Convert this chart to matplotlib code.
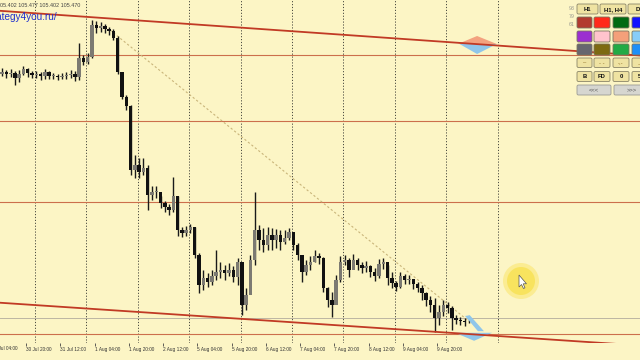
import matplotlib
matplotlib.use('Agg')
import matplotlib.pyplot as plt
from matplotlib.patches import Polygon, Circle, FancyBboxPatch

# USDJPY, 2-hour bars from 30 Jul to 9 Aug
close = [108.60, 108.58, 108.59, 108.53, 108.58, 108.64, 108.59, 108.56, 108.58, 108.55,
         108.60, 108.55, 108.55, 108.54, 108.55, 108.56, 108.58, 108.54, 108.78, 108.73,
         108.79, 109.19, 109.15, 109.18, 109.14, 109.11, 109.03, 108.60, 108.29, 108.18,
         107.38, 107.44, 107.35, 107.40, 107.06, 107.10, 107.10, 106.96, 106.91, 106.88,
         107.05, 106.63, 106.59, 106.63, 106.66, 106.31, 105.94, 106.03, 105.98, 106.05,
         106.10, 106.13, 106.09, 106.13, 106.04, 106.23, 105.69, 105.81, 106.25, 106.63,
         106.50, 106.44, 106.56, 106.50, 106.56, 106.48, 106.53, 106.60, 106.44, 106.31,
         106.10, 106.19, 106.23, 106.30, 106.28, 105.90, 105.75, 105.69, 106.00, 106.23,
         106.25, 106.13, 106.25, 106.19, 106.15, 106.18, 106.10, 106.05, 106.20, 106.23,
         106.03, 105.96, 105.91, 106.05, 106.00, 106.01, 105.95, 105.90, 105.84, 105.75,
         105.69, 105.53, 105.60, 105.69, 105.65, 105.53, 105.50, 105.49, 105.48, 105.47]
high = [108.65, 108.63, 108.64, 108.61, 108.63, 108.68, 108.65, 108.61, 108.61, 108.60,
        108.64, 108.61, 108.59, 108.58, 108.59, 108.60, 108.63, 108.61, 108.96, 108.81,
        108.84, 109.25, 109.24, 109.23, 109.20, 109.16, 109.14, 109.05, 108.60, 108.31,
        108.19, 107.56, 107.53, 107.53, 107.44, 107.18, 107.18, 107.05, 106.99, 106.95,
        107.29, 107.05, 106.66, 106.68, 106.70, 106.66, 106.34, 106.13, 106.09, 106.13,
        106.38, 106.23, 106.19, 106.21, 106.18, 106.28, 106.23, 105.90, 106.31, 107.10,
        106.69, 106.65, 106.66, 106.65, 106.64, 106.63, 106.63, 106.65, 106.58, 106.46,
        106.31, 106.25, 106.30, 106.38, 106.34, 106.29, 105.91, 105.85, 106.06, 106.30,
        106.31, 106.28, 106.33, 106.28, 106.23, 106.24, 106.19, 106.15, 106.26, 106.28,
        106.19, 106.10, 105.99, 106.10, 106.08, 106.06, 106.01, 105.98, 105.94, 105.85,
        105.80, 105.78, 105.69, 105.75, 105.73, 105.68, 105.56, 105.54, 105.53, 105.54]
low = [108.55, 108.53, 108.54, 108.44, 108.48, 108.56, 108.54, 108.53, 108.53, 108.50,
       108.51, 108.51, 108.51, 108.50, 108.51, 108.51, 108.53, 108.49, 108.50, 108.69,
       108.70, 108.78, 109.09, 109.10, 109.09, 109.06, 109.00, 108.58, 108.26, 108.13,
       107.31, 107.28, 107.28, 107.31, 106.88, 107.00, 107.03, 106.90, 106.85, 106.81,
       106.85, 106.55, 106.54, 106.55, 106.59, 106.28, 105.84, 105.88, 105.91, 105.94,
       106.00, 106.03, 106.00, 106.05, 105.98, 105.94, 105.56, 105.63, 105.85, 106.19,
       106.38, 106.35, 106.38, 106.38, 106.40, 106.38, 106.45, 106.50, 106.38, 106.25,
       105.98, 106.06, 106.13, 106.23, 106.20, 105.85, 105.66, 105.54, 105.73, 105.98,
       106.19, 106.04, 106.15, 106.13, 106.09, 106.10, 106.04, 105.99, 106.03, 106.14,
       105.94, 105.90, 105.86, 105.90, 105.95, 105.95, 105.89, 105.85, 105.75, 105.68,
       105.60, 105.35, 105.44, 105.55, 105.59, 105.38, 105.45, 105.44, 105.43, 105.46]
open_ = [108.58] + close[:-1]

time_labels = ['30 Jul 04:00', '30 Jul 20:00', '31 Jul 12:00', '1 Aug 04:00', '1 Aug 20:00',
               '2 Aug 12:00', '5 Aug 04:00', '5 Aug 20:00', '6 Aug 12:00', '7 Aug 04:00',
               '7 Aug 20:00', '8 Aug 12:00', '9 Aug 04:00', '9 Aug 20:00']
label_pos = [-2.4 + 8 * j for j in range(len(time_labels))]
grid_pos = [7.7 + 12 * j for j in range(10)]

levels = [108.81, 107.99, 106.98, 105.33]
bid_line = 105.525
trend_top = ([-0.5, 149.0], [109.365, 108.806])
trend_bottom = ([-0.5, 149.0], [105.716, 105.181])
trend_dotted = ([25.2, 109.2], [109.125, 105.475])
diamond_top_up = [(106.4, 108.95), (110.9, 109.05), (115.5, 108.95)]
diamond_top_dn = [(106.8, 108.95), (115.5, 108.95), (110.9, 108.825)]
diamond_bot_dn = [(105.8, 105.34), (114.4, 105.34), (110.2, 105.24)]
diamond_bot_wing = [(108.1, 105.55), (109.2, 105.56), (112.5, 105.36), (111.1, 105.36)]

ohlc_text = '105.402 105.477 105.402 105.470'

BG = '#fcf5c5'
TICKFONT = ['Liberation Sans Narrow', 'Liberation Sans', 'DejaVu Sans']
fig = plt.figure(figsize=(6.4, 3.6), dpi=100, facecolor=BG)
ax = fig.add_axes([0, 17 / 360, 1, 343 / 360], facecolor=BG)
for s in ax.spines.values():
    s.set_visible(False)
ax.set_yticks([])

for g in grid_pos:
    ax.axvline(g, color='#4a4a40', lw=0.7, ls=(0, (1.2, 1.8)), zorder=1)
for lv in levels:
    ax.axhline(lv, color='#cc6f4c', lw=0.8, zorder=2)
ax.axhline(bid_line, color='#bdb6a2', lw=0.7, zorder=2)

ax.plot(*trend_dotted, color='#c9b57a', lw=0.8, ls=(0, (2, 2)), zorder=2)

# candles
idx = list(range(len(close)))
ax.vlines(idx, low, high, color='#1a1a1a', lw=1.0, zorder=3)
for i in idx:
    o, c = open_[i], close[i]
    col = '#111111' if c < o else '#7c7a72'
    ax.bar(i, max(abs(c - o), 0.01), bottom=min(o, c), width=0.8,
           color=col, edgecolor='none', zorder=4)

ax.plot(*trend_top, color='#c13a24', lw=1.3, zorder=5, solid_capstyle='butt')
ax.plot(*trend_bottom, color='#c13a24', lw=1.3, zorder=5, solid_capstyle='butt')

ax.add_patch(Polygon(diamond_top_up, closed=True, color='#f3a27f', lw=0, zorder=4))
ax.add_patch(Polygon(diamond_top_dn, closed=True, color='#8fc6ea', lw=0, zorder=4))
ax.add_patch(Polygon(diamond_bot_dn, closed=True, color='#8fc6ea', lw=0, zorder=4))
ax.add_patch(Polygon(diamond_bot_wing, closed=True, color='#8fc6ea', lw=0, zorder=4))

ax.set_xticks(label_pos)
ax.set_xticklabels(time_labels, ha='left', fontfamily=TICKFONT)
ax.tick_params(axis='x', length=2.5, width=0.6, color='#444444', pad=0.6,
               labelsize=3.4, labelcolor='#333333')
# limits after the ticks, so the clipped first label does not widen the view
ax.set_xlim(-0.467, 148.93)
ax.set_ylim(109.5 - 343 / 80, 109.5)

# overlay in pixel coordinates for the terminal widgets
ui = fig.add_axes([0, 0, 1, 1], facecolor='none')
ui.set_xlim(0, 640)
ui.set_ylim(360, 0)
ui.axis('off')

# first time label sits left of the view and shows only in part
ui.text(-7.6, 349, time_labels[0], fontsize=3.4, color='#333333', va='center',
        fontfamily=TICKFONT)

ui.text(-3, 5.5, ohlc_text, fontsize=3.9, color='#444444', va='center',
        fontfamily=['Liberation Sans', 'DejaVu Sans'])
ui.text(-14, 17, 'strategy4you.ru/', fontsize=7.2, color='#1f2fcf', va='center',
        fontfamily=['Liberation Sans', 'DejaVu Sans'])

# mouse highlighter
ui.add_patch(Circle((521, 281), 18, color='#fbec92', lw=0, zorder=1))
ui.add_patch(Circle((521, 281), 14, color='#f8e35e', lw=0, zorder=1))
ui.add_patch(Polygon([(519, 275), (519, 287), (521.5, 284.5), (523.5, 288.5), (525, 287.8),
                      (523.2, 283.8), (526.5, 283.8)], closed=True, fc='white',
                     ec='#555555', lw=0.5, zorder=2))

def button(x0, x1, y0, y1, fc, label='', bold=True, ec='#8a8568', tc='#111111'):
    ui.add_patch(FancyBboxPatch((x0, y0), x1 - x0, y1 - y0,
                                boxstyle='round,pad=0,rounding_size=1.5',
                                fc=fc, ec=ec, lw=0.6, zorder=3))
    if label:
        ui.text((x0 + x1) / 2, (y0 + y1) / 2 + 0.3, label, ha='center', va='center',
                fontsize=4.2, color=tc, fontweight='bold' if bold else 'normal',
                zorder=4, fontfamily=['Liberation Sans', 'DejaVu Sans'])

for txt, yy in [('93', 8), ('79', 16), ('61', 24)]:
    ui.text(575, yy, txt, ha='right', va='center', fontsize=3.8, color='#9a9a90',
            fontfamily=['Liberation Sans', 'DejaVu Sans'])

BTN = '#efe3a2'
button(577, 598, 4, 14, BTN, 'H1')
button(600, 626, 4, 14, BTN, 'H1, H4')
button(628, 650, 4, 14, BTN, 'D1')

col_x = [(577, 592), (594, 610), (613, 629), (632, 648)]
swatches = [['#b23a2f', '#ff2a1a', '#006a12', '#1212ff'],
            ['#9b2fd0', '#ffc3cd', '#f4a07a', '#87cdf8'],
            ['#67666f', '#7d6a12', '#23aa45', '#1e8ff8']]
for r, (y0, y1) in enumerate([(17, 28), (31, 42), (44, 55)]):
    for (x0, x1), c in zip(col_x, swatches[r]):
        button(x0, x1, y0, y1, c, ec='#7a7560')

for (x0, x1), lab in zip(col_x, ['\u2013', '- -', '-.-', '...']):
    button(x0, x1, 58, 67.5, BTN, lab, bold=False, tc='#8a6a20')
for (x0, x1), lab in zip(col_x, ['B', 'FD', '0', '5']):
    button(x0, x1, 71.5, 81.5, BTN, lab)
button(577, 611, 85, 95, '#d6d6d0', '<<<', bold=False, ec='#9a9a94', tc='#555555')
button(614, 650, 85, 95, '#d6d6d0', '>>>', bold=False, ec='#9a9a94', tc='#555555')

plt.savefig('out.png', dpi=100, facecolor=BG)
